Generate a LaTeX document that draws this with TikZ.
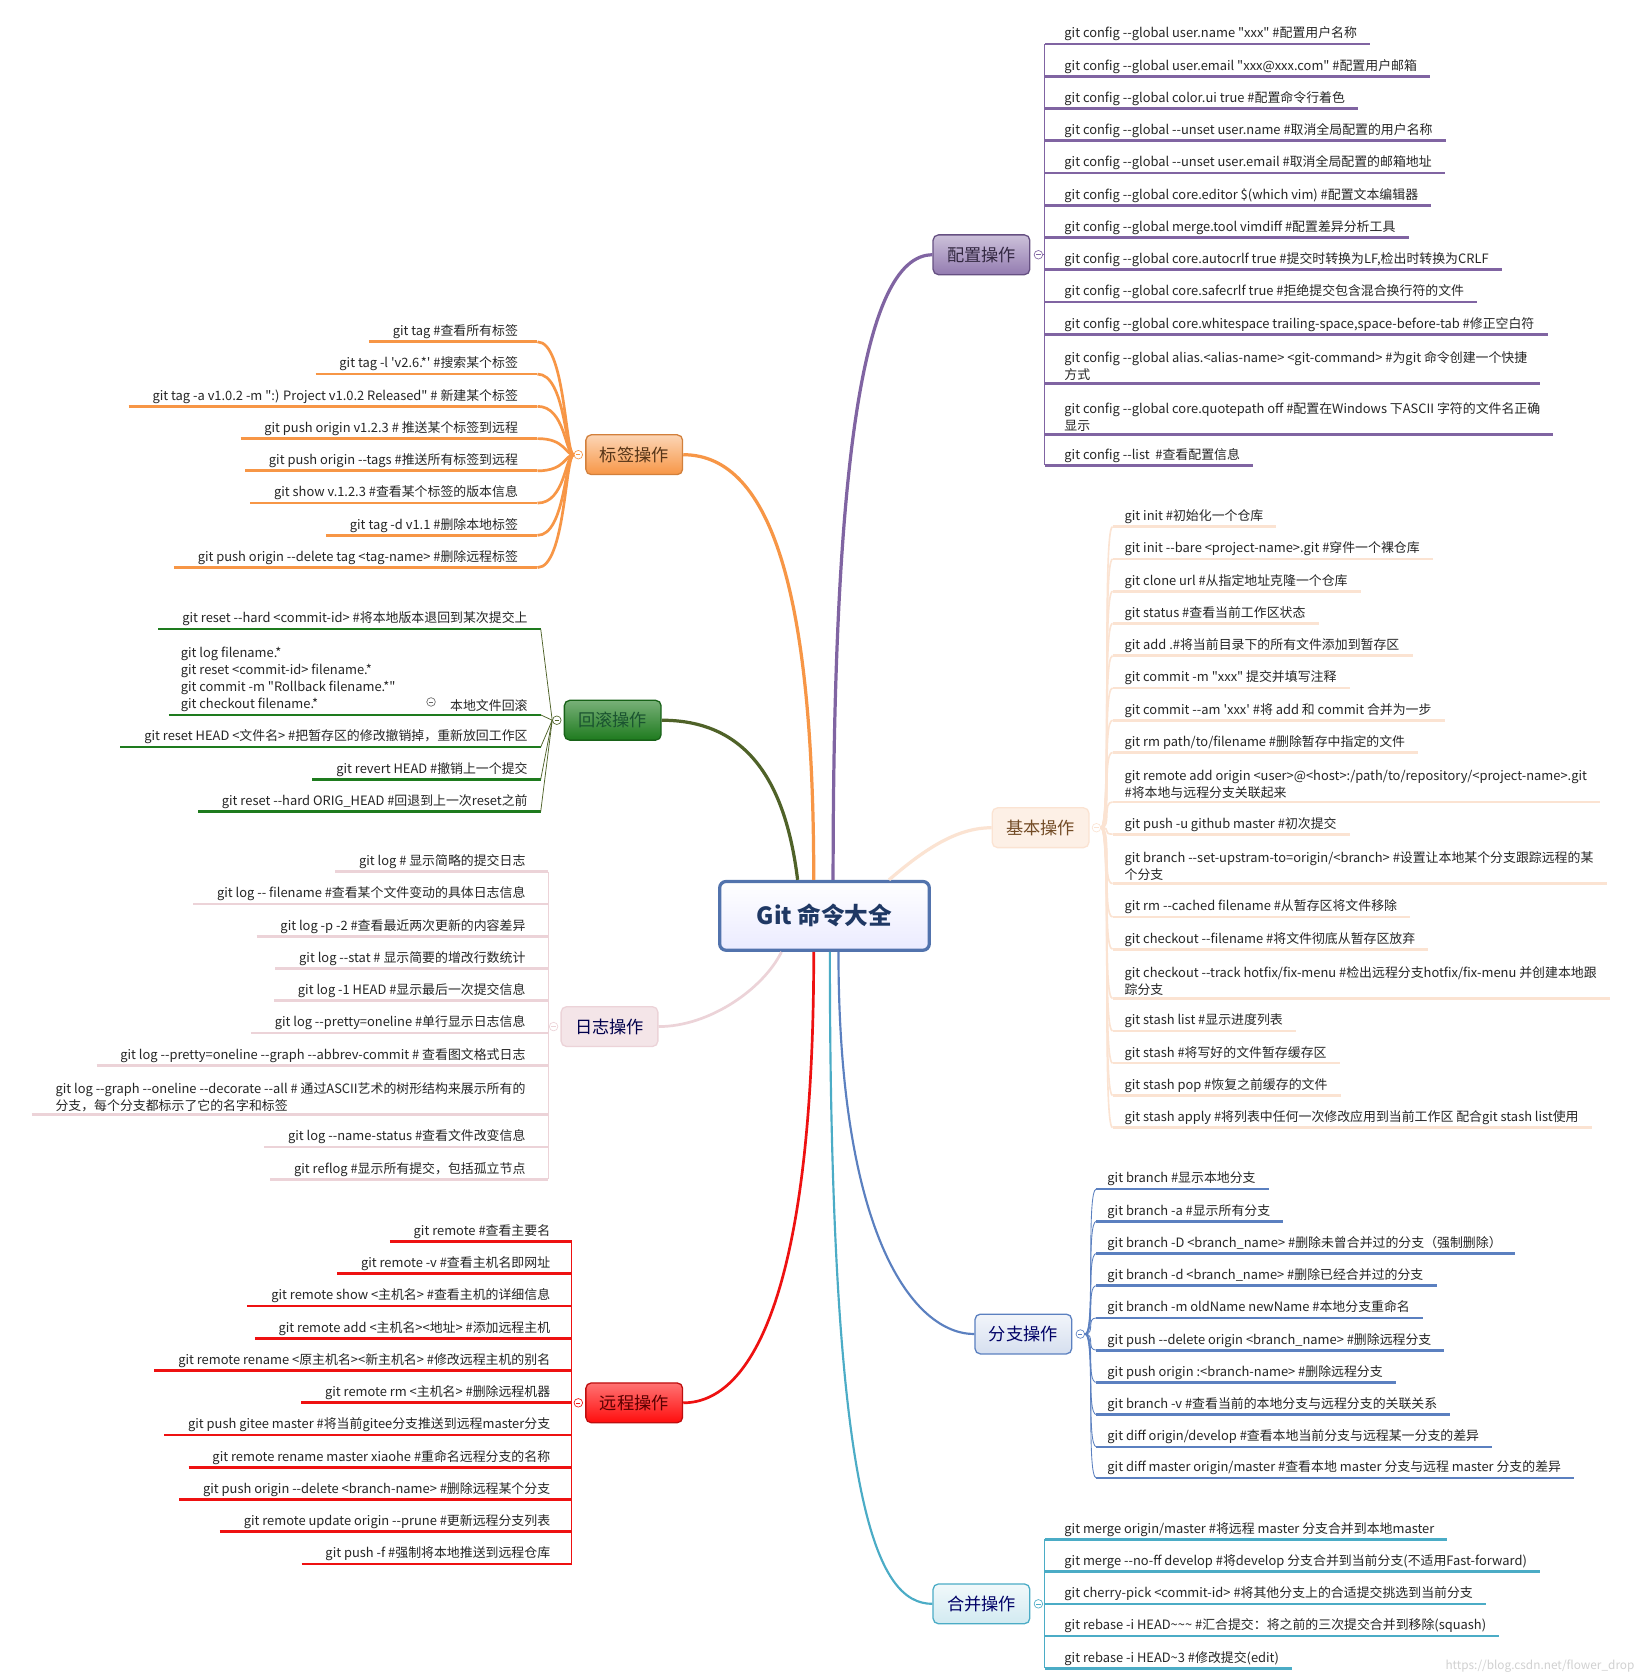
\documentclass[tikz,border=0pt]{standalone}
\usepackage{fontspec}
\setmainfont{Noto Sans CJK SC}[Ligatures=TeXOff]
\definecolor{cP}{HTML}{8064A2}
\definecolor{cT}{HTML}{F79646}
\definecolor{cG}{HTML}{1E7B1E}
\definecolor{cGc}{HTML}{4F6228}
\definecolor{cL}{HTML}{ECD3D8}
\definecolor{cRd}{HTML}{EE1111}
\definecolor{cB}{HTML}{FBE3D2}
\definecolor{cBr}{HTML}{5B80C0}
\definecolor{cM}{HTML}{4BACC6}
\tikzset{
 item/.style={font=\fontsize{12}{16}\selectfont, inner xsep=0pt, inner ysep=2.5pt, align=left, text=black!85},
 cat/.style={rounded corners=5pt, minimum width=90pt, minimum height=37pt, font=\fontsize{16}{18}\selectfont, line width=1.2pt},
 circ/.style={circle, draw=#1, fill=white, inner sep=0pt, minimum size=8pt, line width=0.6pt, path picture={\draw[#1,line width=0.6pt] ([xshift=-2pt]path picture bounding box.center) -- ([xshift=2pt]path picture bounding box.center);}},
}
\newcommand\RI[6]{\node[item,anchor=south west] (#1) at (#4,#3) {#6};
 \draw[#5] (#2,#3) coordinate (#1e) -- ([xshift=12pt]#1.south east);}
\newcommand\LI[6]{\node[item,anchor=south east] (#1) at (#4,#3) {#6};
 \draw[#5] ([xshift=-22pt]#1.south west) -- (#2,#3) coordinate (#1e);}
\begin{document}
\begin{tikzpicture}[x=1pt,y=-1pt]
\useasboundingbox (0,0) rectangle (1530,1561);
\fill[white] (0,0) rectangle (1530,1561);
% centre
\node[rounded corners=6pt, draw=cBr!90!black, line width=3pt, top color=white, bottom color=blue!8, minimum width=195pt, minimum height=64pt, font=\fontsize{22}{24}\selectfont\bfseries, text={rgb,255:red,31;green,56;blue,100}] (center) at (767,852) {Git 命令大全};
% categories
\node[cat, draw=cP!80!black, top color=cP!40, bottom color=cP!85, text=cP!40!black] (cfg) at (913,237) {配置操作};
\node[cat, draw=cT!85!black, top color=cT!40, bottom color=cT, text=cT!35!black] (tag) at (590,423) {标签操作};
\node[cat, draw=cG!80!black, top color=cG!60, bottom color=cG, text=cM!30!cG!60!black] (rb) at (570,670) {回滚操作};
\node[cat, draw=cL, fill=cL!60, text=blue!30!black] (log) at (567,955) {日志操作};
\node[cat, draw=cRd!80!black, top color=red!55, bottom color=red!95, text=red!35!black] (rem) at (590,1305) {远程操作};
\node[cat, draw=cB, fill=cB!55, text=brown!60!black] (bas) at (968,770) {基本操作};
\node[cat, draw=cBr, top color=cBr!8, bottom color=cBr!25, text=blue!40!black] (br) at (952,1241) {分支操作};
\node[cat, draw=cM, top color=cM!8, bottom color=cM!25, text=blue!40!black] (mg) at (913,1492) {合并操作};
% centre connectors
\draw[cP, line width=3pt] ([xshift=8pt]center.north) .. controls (775,450) and (800,237) .. (cfg.west);
\draw[cT, line width=3pt] ([xshift=-10pt]center.north) .. controls (757,560) and (720,423) .. (tag.east);
\draw[cGc, line width=3pt] ([xshift=-25pt]center.north) .. controls (730,720) and (690,670) .. (rb.east);
\draw[cL, line width=2.5pt] ([xshift=-40pt]center.south) .. controls (710,920) and (660,955) .. (log.east);
\draw[cRd, line width=2.5pt] ([xshift=-10pt]center.south) .. controls (757,1200) and (700,1305) .. (rem.east);
\draw[cB, line width=3pt] ([xshift=60pt]center.north) .. controls (860,790) and (890,770) .. (bas.west);
\draw[cBr, line width=2pt] ([xshift=13pt]center.south) .. controls (780,1150) and (850,1241) .. (br.west);
\draw[cM, line width=2pt] ([xshift=5pt]center.south) .. controls (772,1400) and (815,1492) .. (mg.west);

% ---------- 配置 ----------
\tikzset{ulP/.style={cP, line width=2.5pt}}
\RI{p1}{972}{41}{990}{ulP}{git config --global user.name "xxx" \#配置用户名称}
\RI{p2}{972}{71}{990}{ulP}{git config --global user.email "xxx@xxx.com" \#配置用户邮箱}
\RI{p3}{972}{101}{990}{ulP}{git config --global color.ui true \#配置命令行着色}
\RI{p4}{972}{131}{990}{ulP}{git config --global --unset user.name \#取消全局配置的用户名称}
\RI{p5}{972}{161}{990}{ulP}{git config --global --unset user.email \#取消全局配置的邮箱地址}
\RI{p6}{972}{191}{990}{ulP}{git config --global core.editor \$(which vim) \#配置文本编辑器}
\RI{p7}{972}{221}{990}{ulP}{git config --global merge.tool vimdiff \#配置差异分析工具}
\RI{p8}{972}{251}{990}{ulP}{git config --global core.autocrlf true \#提交时转换为LF,检出时转换为CRLF}
\RI{p9}{972}{281}{990}{ulP}{git config --global core.safecrlf true \#拒绝提交包含混合换行符的文件}
\RI{p10}{972}{311}{990}{ulP}{git config --global core.whitespace trailing-space,space-before-tab \#修正空白符}
\RI{p11}{972}{357}{990}{ulP}{git config --global alias.<alias-name> <git-command> \#为git 命令创建一个快捷\\方式}
\RI{p12}{972}{404}{990}{ulP}{git config --global core.quotepath off \#配置在Windows 下ASCII 字符的文件名正确\\显示}
\RI{p13}{972}{433}{990}{ulP}{git config --list \ \#查看配置信息}
\draw[cP, line width=0.8pt] (p1e) -- (p13e);
\node[circ=cP] (pc) at (966,237) {};
\draw[cP, line width=0.8pt] (pc.east) -- (972,237);

% ---------- 标签 ----------
\tikzset{ulT/.style={cT, line width=2.5pt}}
\LI{t1}{500}{318}{482}{ulT}{git tag \#查看所有标签}
\LI{t2}{500}{348}{482}{ulT}{git tag -l 'v2.6.*' \#搜索某个标签}
\LI{t3}{500}{378}{482}{ulT}{git tag -a v1.0.2 -m ":) Project v1.0.2 Released" \# 新建某个标签}
\LI{t4}{500}{408}{482}{ulT}{git push origin v1.2.3 \# 推送某个标签到远程}
\LI{t5}{500}{438}{482}{ulT}{git push origin --tags \#推送所有标签到远程}
\LI{t6}{500}{468}{482}{ulT}{git show v.1.2.3 \#查看某个标签的版本信息}
\LI{t7}{500}{498}{482}{ulT}{git tag -d v1.1 \#删除本地标签}
\LI{t8}{500}{528}{482}{ulT}{git push origin --delete tag <tag-name> \#删除远程标签}
\node[circ=cT] (tc) at (538,423) {};
\foreach \n in {t1,t2,t3,t4,t5,t6,t7,t8}
  \draw[cT, line width=2.5pt] (\n e) .. controls +(26,0) and +(-8,0) .. (tc.west);

% ---------- 回滚 ----------
\tikzset{ulG/.style={cG, line width=2.5pt}}
\LI{r1}{503}{585}{491}{ulG}{git reset --hard <commit-id> \#将本地版本退回到某次提交上}
\node[item,anchor=south west] (r2) at (168,665) {git log filename.*\\git reset <commit-id> filename.*\\git commit -m "Rollback filename.*"\\git checkout filename.*};
\node[item,anchor=south east] (r2b) at (491,665) {本地文件回滚};
\draw[ulG] (157,665) -- (503,665) coordinate (r2e);
\node[circ=black!60] (r2c) at (401,653) {};
\LI{r3}{503}{695}{491}{ulG}{git reset HEAD <文件名> \#把暂存区的修改撤销掉，重新放回工作区}
\LI{r4}{503}{725}{491}{ulG}{git revert HEAD \#撤销上一个提交}
\LI{r5}{503}{755}{491}{ulG}{git reset --hard ORIG\_HEAD \#回退到上一次reset之前}
\node[circ=cGc] (rc) at (518,670) {};
\foreach \n in {r1,r2,r3,r4,r5}
  \draw[cGc, line width=0.7pt] (\n e) -- (rc.west);

% ---------- 日志 ----------
\tikzset{ulL/.style={cL, line width=2.5pt}}
\LI{l1}{510}{811}{489}{ulL}{git log \# 显示简略的提交日志}
\LI{l2}{510}{841}{489}{ulL}{git log -- filename \#查看某个文件变动的具体日志信息}
\LI{l3}{510}{871}{489}{ulL}{git log -p -2 \#查看最近两次更新的内容差异}
\LI{l4}{510}{901}{489}{ulL}{git log --stat \# 显示简要的增改行数统计}
\LI{l5}{510}{931}{489}{ulL}{git log -1 HEAD \#显示最后一次提交信息}
\LI{l6}{510}{961}{489}{ulL}{git log --pretty=oneline \#单行显示日志信息}
\LI{l7}{510}{991}{489}{ulL}{git log --pretty=oneline --graph --abbrev-commit \# 查看图文格式日志}
\LI{l8}{510}{1037}{489}{ulL}{git log --graph --oneline --decorate --all \# 通过ASCII艺术的树形结构来展示所有的\\分支，每个分支都标示了它的名字和标签}
\LI{l9}{510}{1067}{489}{ulL}{git log --name-status \#查看文件改变信息}
\LI{l10}{510}{1097}{489}{ulL}{git reflog \#显示所有提交，包括孤立节点}
\draw[cL, line width=0.8pt] (l1e) -- (l10e);
\node[circ=cL] (lc) at (515,955) {};

% ---------- 远程 ----------
\tikzset{ulR/.style={cRd, line width=2.5pt}}
\LI{m1}{532}{1155}{512}{ulR}{git remote \#查看主要名}
\LI{m2}{532}{1185}{512}{ulR}{git remote -v \#查看主机名即网址}
\LI{m3}{532}{1215}{512}{ulR}{git remote show <主机名> \#查看主机的详细信息}
\LI{m4}{532}{1245}{512}{ulR}{git remote add <主机名><地址> \#添加远程主机}
\LI{m5}{532}{1275}{512}{ulR}{git remote rename <原主机名><新主机名> \#修改远程主机的别名}
\LI{m6}{532}{1305}{512}{ulR}{git remote rm <主机名> \#删除远程机器}
\LI{m7}{532}{1335}{512}{ulR}{git push gitee master \#将当前gitee分支推送到远程master分支}
\LI{m8}{532}{1365}{512}{ulR}{git remote rename master xiaohe \#重命名远程分支的名称}
\LI{m9}{532}{1395}{512}{ulR}{git push origin --delete <branch-name> \#删除远程某个分支}
\LI{m10}{532}{1425}{512}{ulR}{git remote update origin --prune \#更新远程分支列表}
\LI{m11}{532}{1455}{512}{ulR}{git push -f \#强制将本地推送到远程仓库}
\draw[cRd, line width=1pt] (m1e) -- (m11e);
\node[circ=cRd] (mc) at (538,1305) {};

% ---------- 基本 ----------
\tikzset{ulB/.style={cB, line width=2.5pt}}
\RI{b1}{1035}{490}{1046}{ulB}{git init \#初始化一个仓库}
\RI{b2}{1035}{520}{1046}{ulB}{git init --bare <project-name>.git \#穿件一个裸仓库}
\RI{b3}{1035}{550}{1046}{ulB}{git clone url \#从指定地址克隆一个仓库}
\RI{b4}{1035}{580}{1046}{ulB}{git status \#查看当前工作区状态}
\RI{b5}{1035}{610}{1046}{ulB}{git add .\#将当前目录下的所有文件添加到暂存区}
\RI{b6}{1035}{640}{1046}{ulB}{git commit -m "xxx" 提交并填写注释}
\RI{b7}{1035}{670}{1046}{ulB}{git commit --am 'xxx' \#将 add 和 commit 合并为一步}
\RI{b8}{1035}{700}{1046}{ulB}{git rm path/to/filename \#删除暂存中指定的文件}
\RI{b9}{1035}{746}{1046}{ulB}{git remote add origin <user>@<host>:/path/to/repository/<project-name>.git\\\#将本地与远程分支关联起来}
\RI{b10}{1035}{776}{1046}{ulB}{git push -u github master \#初次提交}
\RI{b11}{1035}{822}{1046}{ulB}{git branch --set-upstram-to=origin/<branch> \#设置让本地某个分支跟踪远程的某\\个分支}
\RI{b12}{1035}{853}{1046}{ulB}{git rm --cached filename \#从暂存区将文件移除}
\RI{b13}{1035}{883}{1046}{ulB}{git checkout --filename \#将文件彻底从暂存区放弃}
\RI{b14}{1035}{929}{1046}{ulB}{git checkout --track hotfix/fix-menu \#检出远程分支hotfix/fix-menu 并创建本地跟\\踪分支}
\RI{b15}{1035}{959}{1046}{ulB}{git stash list \#显示进度列表}
\RI{b16}{1035}{989}{1046}{ulB}{git stash \#将写好的文件暂存缓存区}
\RI{b17}{1035}{1019}{1046}{ulB}{git stash pop \#恢复之前缓存的文件}
\RI{b18}{1035}{1049}{1046}{ulB}{git stash apply \#将列表中任何一次修改应用到当前工作区 配合git stash list使用}
\node[circ=cB] (bc) at (1020,770) {};
\foreach \n in {b1,b2,b3,b4,b5,b6,b7,b8,b9,b10,b11,b12,b13,b14,b15,b16,b17,b18}
  \draw[cB, line width=1.5pt] (bc.east) .. controls +(10,0) and +(-10,0) .. (\n e);

% ---------- 分支 ----------
\tikzset{ulBr/.style={cBr, line width=2.5pt}}
\RI{s1}{1020}{1106}{1030}{ulBr}{git branch \#显示本地分支}
\RI{s2}{1020}{1136}{1030}{ulBr}{git branch -a \#显示所有分支}
\RI{s3}{1020}{1166}{1030}{ulBr}{git branch -D <branch\_name> \#删除未曾合并过的分支（强制删除）}
\RI{s4}{1020}{1196}{1030}{ulBr}{git branch -d <branch\_name> \#删除已经合并过的分支}
\RI{s5}{1020}{1226}{1030}{ulBr}{git branch -m oldName newName \#本地分支重命名}
\RI{s6}{1020}{1256}{1030}{ulBr}{git push --delete origin <branch\_name> \#删除远程分支}
\RI{s7}{1020}{1286}{1030}{ulBr}{git push origin :<branch-name> \#删除远程分支}
\RI{s8}{1020}{1316}{1030}{ulBr}{git branch -v \#查看当前的本地分支与远程分支的关联关系}
\RI{s9}{1020}{1346}{1030}{ulBr}{git diff origin/develop \#查看本地当前分支与远程某一分支的差异}
\RI{s10}{1020}{1375}{1030}{ulBr}{git diff master origin/master \#查看本地 master 分支与远程 master 分支的差异}
\node[circ=cBr] (sc) at (1005,1241) {};
\foreach \n in {s1,s2,s3,s4,s5,s6,s7,s8,s9,s10}
  \draw[cBr, line width=0.8pt] (sc.east) .. controls +(10,0) and +(-10,0) .. (\n e);

% ---------- 合并 ----------
\tikzset{ulM/.style={cM, line width=2.5pt}}
\RI{g1}{972}{1432}{990}{ulM}{git merge origin/master \#将远程 master 分支合并到本地master}
\RI{g2}{972}{1462}{990}{ulM}{git merge --no-ff develop \#将develop 分支合并到当前分支(不适用Fast-forward)}
\RI{g3}{972}{1492}{990}{ulM}{git cherry-pick <commit-id> \#将其他分支上的合适提交挑选到当前分支}
\RI{g4}{972}{1522}{990}{ulM}{git rebase -i HEAD\textasciitilde\textasciitilde\textasciitilde{} \#汇合提交：将之前的三次提交合并到移除(squash)}
\RI{g5}{972}{1552}{990}{ulM}{git rebase -i HEAD\textasciitilde3 \#修改提交(edit)}
\draw[cM, line width=0.8pt] (g1e) -- (g5e);
\node[circ=cM] (gc) at (966,1492) {};

\node[font=\fontsize{11}{13}\selectfont, text=black!18, anchor=east] (wm) at (1524,1550) {https://blog.csdn.net/flower\_drop};
\end{tikzpicture}
\end{document}
